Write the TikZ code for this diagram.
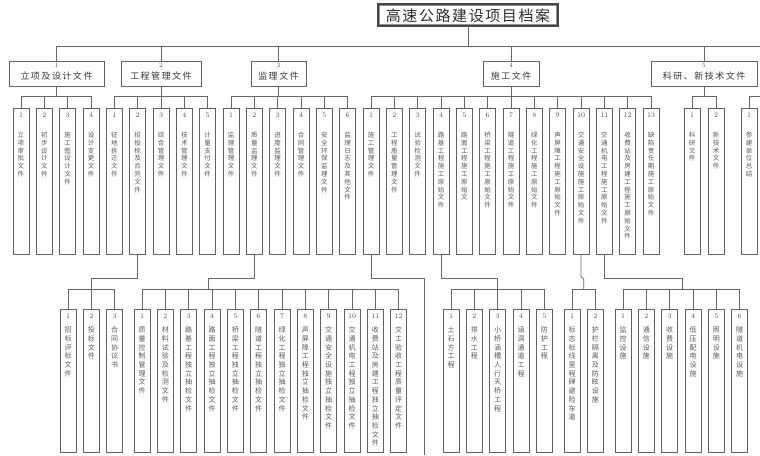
\documentclass[tikz,border=0pt]{standalone}
\usepackage{fontspec}
\newfontfamily\cjk{Noto Sans CJK SC}
\makeatletter
\newcommand\vstk[2]{\vtop{\baselineskip=#1\lineskip=0pt\lineskiplimit=-100pt\@tfor\vs@c:=#2\do{\hbox to 10pt{\hss\vs@c\hss}}}}
\newcommand\lsp[2]{\kern-#1\@tfor\ls@c:=#2\do{\kern#1\ls@c}}
\makeatother
\newcommand\Ltwo[4]{%
  \node[l2box] (#1) at (#2,181) {};
  \node[num] (#1n) at (#2,117.5) {#3};
  \node[chl2] (#1t) at (#2,137.5) {\vstk{7.8pt}{#4}};}
\newcommand\Lthree[4]{%
  \node[l3box] (#1) at (#2,380.5) {};
  \node[num] (#1n) at (#2,318) {#3};
  \node[chl3] (#1t) at (#2,332.7) {\vstk{8.7pt}{#4}};}
\newcommand\Lone[5]{%
  \node[l1box, minimum width=#3] (#1) at (#2,73.5) {};
  \node[l1num] (#1n) at (#2,67.3) {#4};
  \node[l1txt] (#1t) at (#2,79.4) {\lsp{1.5pt}{#5}};}
\begin{document}
\begin{tikzpicture}[x=1pt,y=-1pt,
  bx/.style={draw=black!62, line width=0.9pt, inner sep=0pt, outer sep=0pt, minimum width=16pt},
  l2box/.style={bx, minimum height=146pt},
  l3box/.style={bx, minimum height=143pt},
  l1box/.style={bx, minimum height=25pt},
  conn/.style={draw=black!60, line width=0.8pt},
  num/.style={inner sep=0pt, anchor=base, font=\fontsize{7}{8}\selectfont, text=black!70},
  l1num/.style={inner sep=0pt, anchor=base, font=\fontsize{6.5}{7}\selectfont, text=black!70},
  chl2/.style={inner sep=0pt, anchor=base, font=\cjk\fontsize{6.5}{7.8}\selectfont, text=black!65},
  chl3/.style={inner sep=0pt, anchor=base, font=\cjk\fontsize{7}{8.7}\selectfont, text=black!65},
  l1txt/.style={inner sep=0pt, anchor=base, font=\cjk\fontsize{9}{10}\selectfont, text=black!78},
  ttxt/.style={inner sep=0pt, anchor=base, font=\cjk\fontsize{15}{16}\selectfont, text=black!82}]
\fill[white] (0,0) rectangle (760,455);
\useasboundingbox (0,0) rectangle (760,455);

% title
\node[draw=black!72, line width=1.3pt, inner sep=0pt, outer sep=0pt, minimum width=180pt, minimum height=22pt] (title) at (468,15) {};
\draw[black!45, line width=0.5pt] ([shift={(1.7,1.7)}]title.north west) rectangle ([shift={(-1.7,-1.7)}]title.south east);
\node[ttxt] (titlet) at (468,21.2) {\lsp{1.6pt}{高速公路建设项目档案}};

% level 1
\Lone{c1}{56.5}{95pt}{1}{立项及设计文件}
\Lone{c2}{161}{80pt}{2}{工程管理文件}
\Lone{c3}{278.5}{55pt}{3}{监理文件}
\Lone{c4}{511}{56pt}{4}{施工文件}
\Lone{c5}{704}{106pt}{5}{科研、新技术文件}

% level 2
\Ltwo{a1}{21}{1}{立项审批文件}
\Ltwo{a2}{44.3}{2}{初步设计文件}
\Ltwo{a3}{67.7}{3}{施工图设计文件}
\Ltwo{a4}{91}{4}{设计变更文件}
\Ltwo{b1}{114.3}{1}{征地拆迁文件}
\Ltwo{b2}{137.7}{2}{招投标及合同文件}
\Ltwo{b3}{161}{3}{综合管理文件}
\Ltwo{b4}{184.3}{4}{技术管理文件}
\Ltwo{b5}{207.7}{5}{计量支付文件}
\Ltwo{s1}{231}{1}{监理管理文件}
\Ltwo{s2}{254.3}{2}{质量监理文件}
\Ltwo{s3}{277.7}{3}{进度监理文件}
\Ltwo{s4}{301}{4}{合同管理文件}
\Ltwo{s5}{324.3}{5}{安全环保监理文件}
\Ltwo{s6}{347.7}{6}{监理日志及其他文件}
\Ltwo{g1}{371}{1}{施工管理文件}
\Ltwo{g2}{394.3}{2}{工程质量管理文件}
\Ltwo{g3}{417.7}{3}{试验检测文件}
\Ltwo{g4}{441}{4}{路基工程施工原始文件}
\Ltwo{g5}{464.3}{5}{路面工程施工原始文}
\Ltwo{g6}{487.7}{6}{桥梁工程施工原始文件}
\Ltwo{g7}{511}{7}{隧道工程施工原始文件}
\Ltwo{g8}{534.3}{8}{绿化工程施工原始文件}
\Ltwo{g9}{557.7}{9}{声屏障工程施工原始文件}
\Ltwo{g10}{581}{10}{交通安全设施施工原始文件}
\Ltwo{g11}{604.3}{11}{交通机电工程施工原始文件}
\Ltwo{g12}{627.7}{12}{收费站及房建工程施工原始文件}
\Ltwo{g13}{651}{13}{缺陷责任期施工原始文件}
\Ltwo{k1}{692}{1}{科研文件}
\Ltwo{k2}{716}{2}{新技术文件}
\Ltwo{z1}{749}{1}{参建单位总结}

% level 3
\Lthree{ta1}{68}{1}{招标评标文件}
\Lthree{ta2}{91.3}{2}{投标文件}
\Lthree{ta3}{114.7}{3}{合同协议书}
\Lthree{tb1}{142}{1}{质量控制管理文件}
\Lthree{tb2}{165.3}{2}{材料试验及检测文件}
\Lthree{tb3}{188.7}{3}{路基工程独立抽检文件}
\Lthree{tb4}{212}{4}{路面工程独立抽检文件}
\Lthree{tb5}{235.3}{5}{桥梁工程独立抽检文件}
\Lthree{tb6}{258.7}{6}{隧道工程独立抽检文件}
\Lthree{tb7}{282}{7}{绿化工程独立抽检文件}
\Lthree{tb8}{305.3}{8}{声屏障工程独立抽检文件}
\Lthree{tb9}{328.7}{9}{交通安全设施独立抽检文件}
\Lthree{tb10}{352}{10}{交通机电工程独立抽检文件}
\Lthree{tb11}{375.3}{11}{收费站及房建工程独立抽检文件}
\Lthree{tb12}{398.7}{12}{交工验收工程质量评定文件}
\Lthree{td1}{451}{1}{土石方工程}
\Lthree{td2}{474.3}{2}{排水工程}
\Lthree{td3}{497.7}{3}{小桥涵槽人行天桥工程}
\Lthree{td4}{521}{4}{涵洞通道工程}
\Lthree{td5}{544.3}{5}{防护工程}
\Lthree{te1}{572}{1}{标志标线里程碑避险车道}
\Lthree{te2}{595.3}{2}{护栏隔离及防眩设施}
\Lthree{tf1}{623}{1}{监控设施}
\Lthree{tf2}{646.3}{2}{通信设施}
\Lthree{tf3}{669.7}{3}{收费设施}
\Lthree{tf4}{693}{4}{低压配电设施}
\Lthree{tf5}{716.3}{5}{照明设施}
\Lthree{tf6}{739.7}{6}{隧道机电设施}

% connector coordinates
\coordinate (mb) at (0,46);
\coordinate (mbR) at (760,46);
\coordinate (l2b) at (0,96);
\coordinate (l2bR) at (760,96);
\coordinate (j3) at (0,278);
\coordinate (l3b) at (0,289);
\coordinate (jB) at (208,278);
\coordinate (jC) at (424,278);
\coordinate (endC) at (424,455);
\coordinate (jE1) at (581,276.5);
\coordinate (jE2) at (583.7,279);
\coordinate (jF) at (682,278);

% top connectors
\draw[conn] (title.south) -- (title.south|-mb);
\draw[conn] (c1.north) -- (c1.north|-mb) -- (mbR);
\foreach \n in {c2,c3,c4,c5} \draw[conn] (\n.north) -- (\n.north|-mb);

% level 2 connectors
\foreach \p in {c1,c2,c3,c4,c5} \draw[conn] (\p.south) -- (\p.south|-l2b);
\draw[conn] (a1.north) -- (a1.north|-l2b) -- (a4.north|-l2b) -- (a4.north);
\foreach \n in {a2,a3} \draw[conn] (\n.north) -- (\n.north|-l2b);
\draw[conn] (b1.north) -- (b1.north|-l2b) -- (b5.north|-l2b) -- (b5.north);
\foreach \n in {b2,b3,b4} \draw[conn] (\n.north) -- (\n.north|-l2b);
\draw[conn] (s1.north) -- (s1.north|-l2b) -- (s6.north|-l2b) -- (s6.north);
\foreach \n in {s2,s3,s4,s5} \draw[conn] (\n.north) -- (\n.north|-l2b);
\draw[conn] (g1.north) -- (g1.north|-l2b) -- (g13.north|-l2b) -- (g13.north);
\foreach \n in {g2,g3,g4,g5,g6,g7,g8,g9,g10,g11,g12} \draw[conn] (\n.north) -- (\n.north|-l2b);
\draw[conn] (k1.north) -- (k1.north|-l2b) -- (k2.north|-l2b) -- (k2.north);
\draw[conn] (z1.north) -- (z1.north|-l2b) -- (l2bR);

% level 3 connectors
\draw[conn] (b2.south) -- (b2.south|-j3) -- (ta2.north|-j3) -- (ta2.north);
\draw[conn] (ta1.north) -- (ta1.north|-l3b) -- (ta3.north|-l3b) -- (ta3.north);
\draw[conn] (s2.south) -- (s2.south|-j3) -- (jB) -- (jB|-l3b);
\draw[conn] (tb1.north) -- (tb1.north|-l3b) -- (tb12.north|-l3b) -- (tb12.north);
\foreach \n in {tb2,tb3,tb4,tb5,tb6,tb7,tb8,tb9,tb10,tb11} \draw[conn] (\n.north) -- (\n.north|-l3b);
\draw[conn] (g1.south) -- (g1.south|-j3) -- (jC) -- (endC);
\draw[conn] (g4.south) -- (g4.south|-j3) -- (td3.north|-j3) -- (td3.north);
\draw[conn] (td1.north) -- (td1.north|-l3b) -- (td5.north|-l3b) -- (td5.north);
\foreach \n in {td2,td4} \draw[conn] (\n.north) -- (\n.north|-l3b);
\draw[conn] (g10.south) -- (jE1) -- (jE2) -- (jE2|-l3b);
\draw[conn] (te1.north) -- (te1.north|-l3b) -- (te2.north|-l3b) -- (te2.north);
\draw[conn] (g11.south) -- (g11.south|-j3) -- (jF) -- (jF|-l3b);
\draw[conn] (tf1.north) -- (tf1.north|-l3b) -- (tf6.north|-l3b) -- (tf6.north);
\foreach \n in {tf2,tf3,tf4,tf5} \draw[conn] (\n.north) -- (\n.north|-l3b);
\end{tikzpicture}
\end{document}
